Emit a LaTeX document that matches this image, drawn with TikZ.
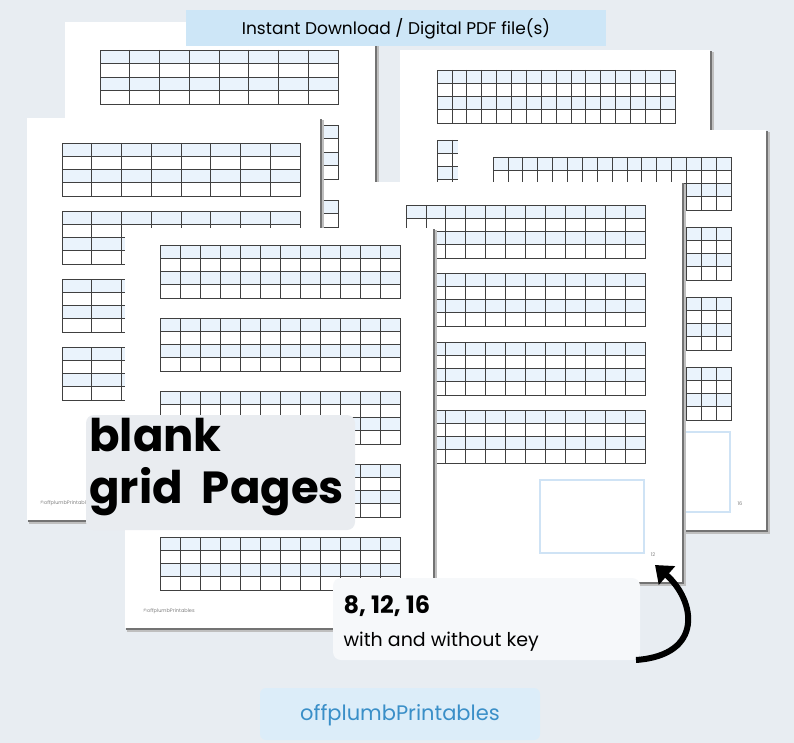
\documentclass[tikz,border=0pt]{standalone}
\usepackage{fontspec}
\setmainfont{Poppins}
\usetikzlibrary{arrows.meta}
\definecolor{bg}{HTML}{E8EDF2}
\definecolor{rowblue}{HTML}{EAF3FC}
\definecolor{keyblue}{HTML}{CFE3F5}
\definecolor{tagblue}{HTML}{CDE6F7}
\definecolor{txtblue}{HTML}{3A8FC8}
\definecolor{tagGray}{HTML}{E9ECF0}
\newcommand\gb[5]{% x y w cols height
  \pgfmathsetmacro\cw{#3/#4}\pgfmathsetmacro\rh{#5/4}
  \fill[rowblue] (#1,#2) rectangle ++(#3,\rh);
  \fill[rowblue] (#1,#2+2*\rh) rectangle ++(#3,\rh);
  \foreach \i in {1,...,3}{\draw[black!75,line width=0.7pt] (#1,#2+\i*\rh) -- ++(#3,0);}
  \pgfmathtruncatemacro\nc{#4-1}
  \foreach \i in {1,...,\nc}{\draw[black!75,line width=0.7pt] (#1+\i*\cw,#2) -- ++(0,#5);}
  \draw[black!75,line width=0.7pt] (#1,#2) rectangle ++(#3,#5);}
\newcommand\pg[4]{%
  \fill[black!25] (#1+2,#2+2) rectangle (#3+4,#4+4);
  \fill[black!55] (#1+1,#2+1) rectangle (#3+2,#4+2);
  \fill[white] (#1,#2) rectangle (#3,#4);}
\tikzset{foot/.style={font=\fontsize{5}{6}\selectfont,text=gray,inner sep=0}}
\begin{document}
\begin{tikzpicture}[x=1pt,y=-1pt]
\fill[bg] (0,0) rectangle (794,743);
\useasboundingbox (0,0) rectangle (794,743);
% P1
\pg{65}{22}{375}{420}
\foreach \y in {50,125,200,275}{\gb{100}{\y}{238}{8}{54}}
% P4
\pg{400}{50}{710}{470}
\foreach \y in {70,140,210,280,350}{\gb{437}{\y}{238}{16}{53}}
% P2
\pg{27}{118}{320}{520}
\foreach \y in {143,211,279,347}{\gb{62}{\y}{238}{8}{53}}
\node[foot,anchor=west] (f2) at (40,503) {©offplumbPrintables};
% P5
\pg{458}{130}{766}{530}
\foreach \y in {157,227,297,367}{\gb{493}{\y}{238}{16}{53}}
\draw[keyblue,line width=1.5pt] (680,432) rectangle (730,512);
\node[foot] (n16) at (740,504) {16};
% P6
\pg{370}{182}{682}{582}
\foreach \y in {205,273,342,410}{\gb{406}{\y}{239}{12}{53}}
\draw[keyblue,line width=1.5pt] (540,480) rectangle (644,553);
\node[foot] (n12) at (653,555) {12};
% P3
\pg{125}{228}{433}{628}
\foreach \y in {245,318,391,464,537}{\gb{160}{\y}{240}{12}{53}}
\node[foot,anchor=west] (f3) at (143,611) {©offplumbPrintables};
% labels
\fill[tagblue] (186,10) rectangle (606,46);
\node[font=\fontsize{17}{18}\selectfont] (top) at (396,29) {Instant Download / Digital PDF file(s)};
\fill[tagGray,rounded corners=8pt] (86,415) rectangle (355,530);
\node[font=\bfseries\fontsize{45}{52}\selectfont,align=left,anchor=north west,inner sep=0] (title) at (89,418) {blank\\grid\ \ Pages};
\fill[bg!40!white,rounded corners=8pt] (333,578) rectangle (640,660);
\node[font=\bfseries\fontsize{24}{26}\selectfont,anchor=west] (nums) at (340,606) {8, 12, 16};
\node[font=\fontsize{19}{22}\selectfont,anchor=west] (with) at (340,642) {with and without key};
\coordinate (ta) at (636,660);
\coordinate (tb) at (655,565);
\draw[line width=6pt,-{Triangle[width=24pt,length=16pt]}] (ta) .. controls (705,655) and (695,600) .. (tb);
\fill[tagblue!70!white,rounded corners=6pt] (260,688) rectangle (540,740);
\node[font=\fontsize{21}{24}\selectfont,text=txtblue] (brand) at (400,715) {offplumbPrintables};
\end{tikzpicture}
\end{document}
